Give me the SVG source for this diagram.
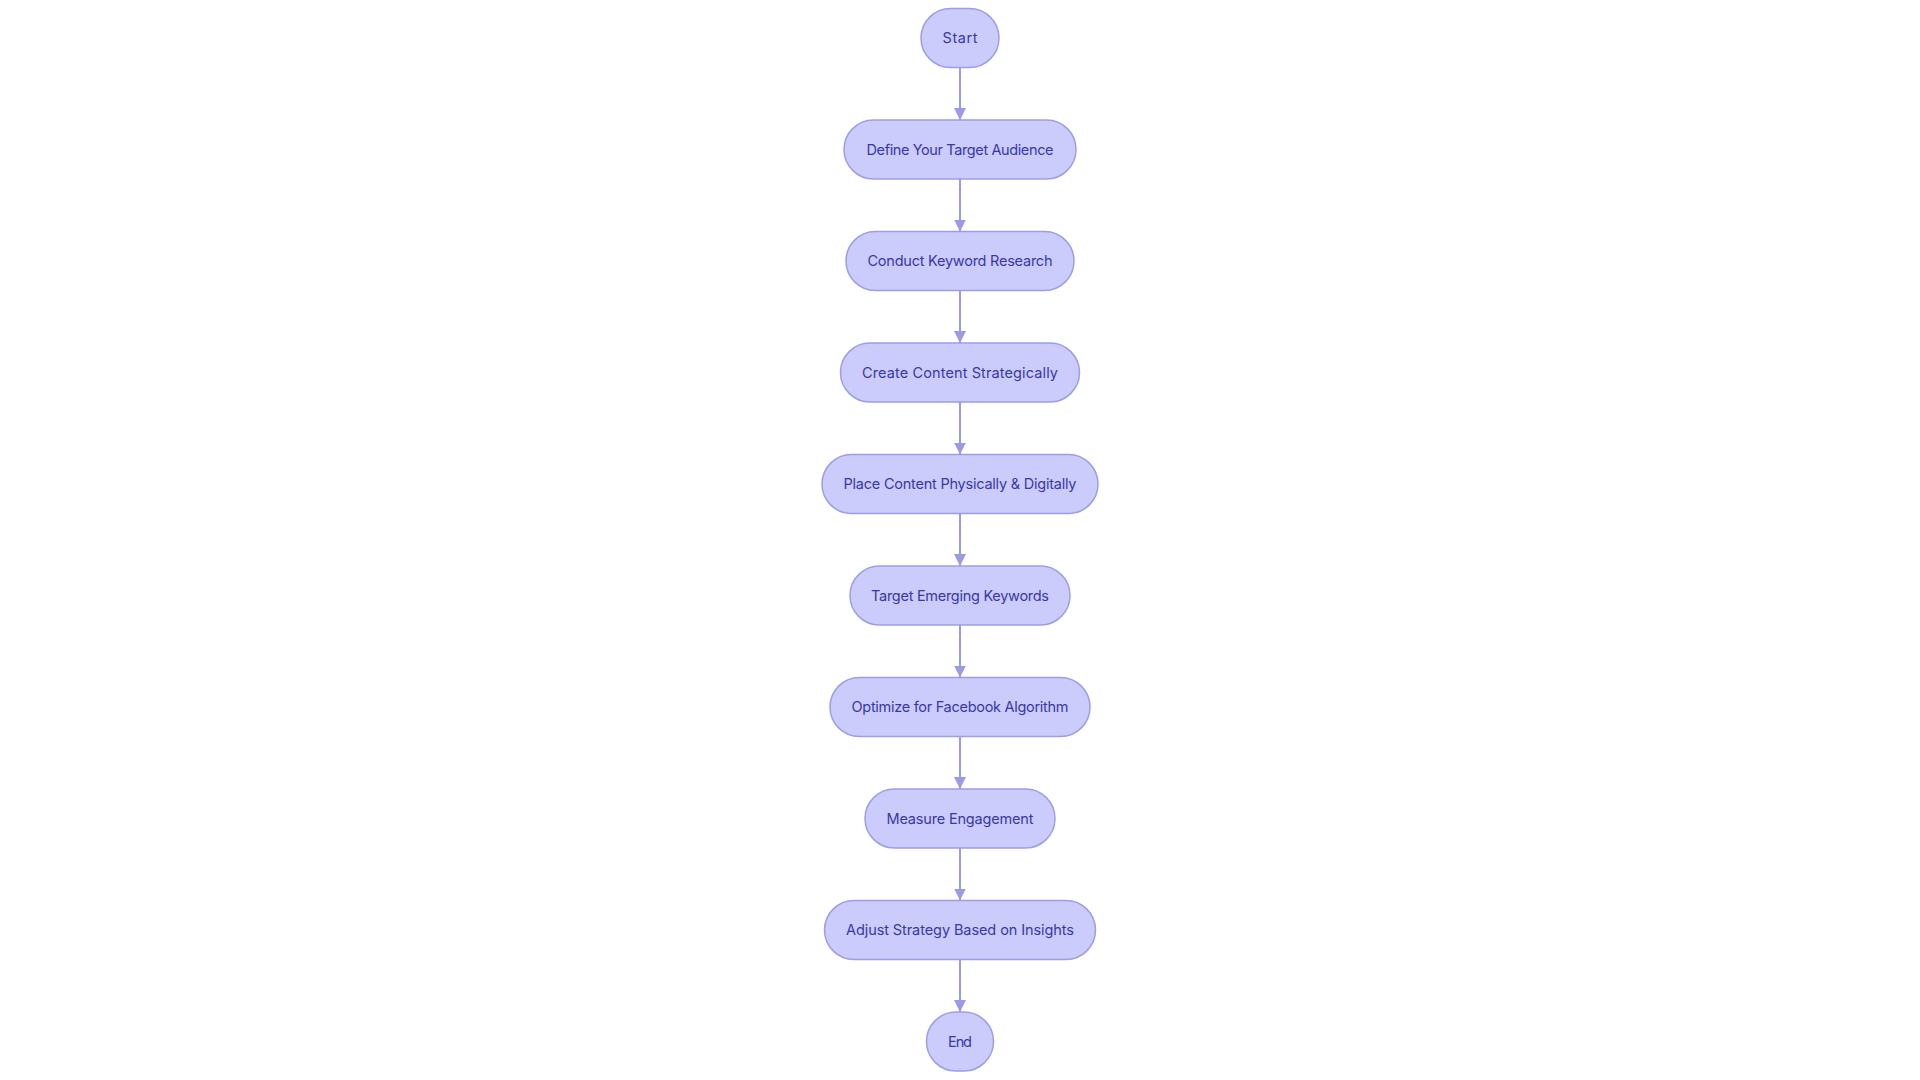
<svg xmlns="http://www.w3.org/2000/svg" width="1920" height="1080" viewBox="0 0 1920 1080">
<style>
.node rect{fill:#CBCBFC;stroke:#9D9DE8;stroke-width:1.5}
.node text{font-family:Inter,"Noto Sans","Liberation Sans",sans-serif;font-size:14.5px;fill:#3838A8;text-anchor:middle}
.edge{stroke:#9A9AE6;stroke-width:2;fill:none}
</style>
<defs>
<marker id="arrow" viewBox="0 0 12 12" refX="12" refY="6" markerWidth="12" markerHeight="12" markerUnits="userSpaceOnUse" orient="auto">
<path d="M0,0 L12,6 L0,12 z" fill="#9A9AE6"/>
</marker>
</defs>
<rect width="1920" height="1080" fill="#FFFFFF"/>
<g id="edges">
<line class="edge" x1="960" y1="67.5" x2="960" y2="120" marker-end="url(#arrow)"/>
<line class="edge" x1="960" y1="179" x2="960" y2="231.5" marker-end="url(#arrow)"/>
<line class="edge" x1="960" y1="290.5" x2="960" y2="343" marker-end="url(#arrow)"/>
<line class="edge" x1="960" y1="402" x2="960" y2="454.5" marker-end="url(#arrow)"/>
<line class="edge" x1="960" y1="513.5" x2="960" y2="566" marker-end="url(#arrow)"/>
<line class="edge" x1="960" y1="625" x2="960" y2="677.5" marker-end="url(#arrow)"/>
<line class="edge" x1="960" y1="736.5" x2="960" y2="789" marker-end="url(#arrow)"/>
<line class="edge" x1="960" y1="848" x2="960" y2="900.5" marker-end="url(#arrow)"/>
<line class="edge" x1="960" y1="959.5" x2="960" y2="1012" marker-end="url(#arrow)"/>
</g>
<g id="start" class="node"><rect x="921" y="8.5" width="78" height="59" rx="29.5"/><text x="960" y="43" textLength="35" lengthAdjust="spacing">Start</text></g>
<g id="define" class="node"><rect x="844" y="120" width="232" height="59" rx="29.5"/><text x="960" y="154.5" textLength="187" lengthAdjust="spacing">Define Your Target Audience</text></g>
<g id="conduct" class="node"><rect x="846" y="231.5" width="228" height="59" rx="29.5"/><text x="960" y="266" textLength="185" lengthAdjust="spacing">Conduct Keyword Research</text></g>
<g id="create" class="node"><rect x="840.5" y="343" width="239" height="59" rx="29.5"/><text x="960" y="377.5" textLength="196" lengthAdjust="spacing">Create Content Strategically</text></g>
<g id="place" class="node"><rect x="822" y="454.5" width="276" height="59" rx="29.5"/><text x="960" y="489" textLength="233" lengthAdjust="spacing">Place Content Physically &amp; Digitally</text></g>
<g id="target" class="node"><rect x="850" y="566" width="220" height="59" rx="29.5"/><text x="960" y="600.5" textLength="178" lengthAdjust="spacing">Target Emerging Keywords</text></g>
<g id="optimize" class="node"><rect x="830" y="677.5" width="260" height="59" rx="29.5"/><text x="960" y="712" textLength="217" lengthAdjust="spacing">Optimize for Facebook Algorithm</text></g>
<g id="measure" class="node"><rect x="865" y="789" width="190" height="59" rx="29.5"/><text x="960" y="823.5" textLength="147" lengthAdjust="spacing">Measure Engagement</text></g>
<g id="adjust" class="node"><rect x="824.5" y="900.5" width="271" height="59" rx="29.5"/><text x="960" y="935" textLength="228" lengthAdjust="spacing">Adjust Strategy Based on Insights</text></g>
<g id="end" class="node"><rect x="926.5" y="1012" width="67" height="59" rx="29.5"/><text x="960" y="1046.5" textLength="24" lengthAdjust="spacing">End</text></g>
</svg>
